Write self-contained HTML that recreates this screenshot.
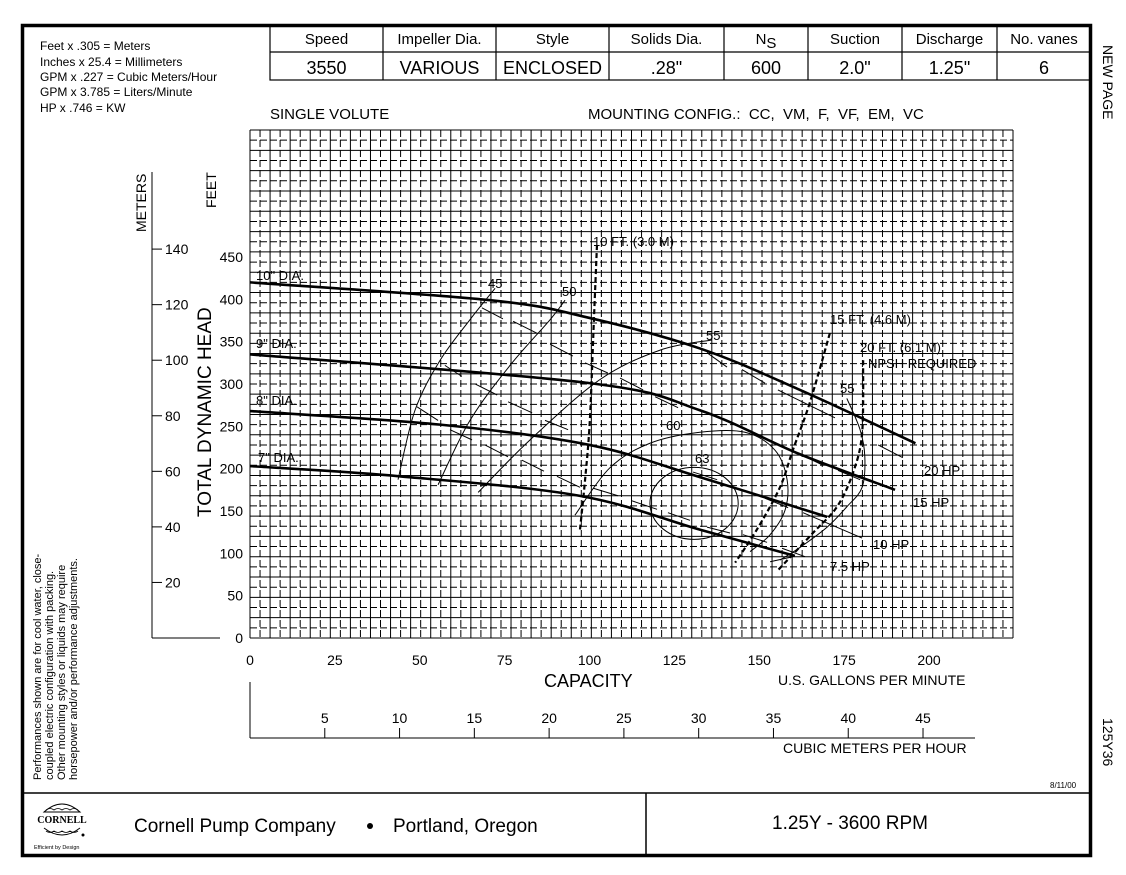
<!DOCTYPE html>
<html><head><meta charset="utf-8"><style>
html,body{margin:0;padding:0;background:#fff}
svg{display:block;font-family:"Liberation Sans",Arial,sans-serif}
</style></head><body>
<svg id="c" width="1126" height="875" viewBox="0 0 1126 875" xmlns="http://www.w3.org/2000/svg">
<rect x="0" y="0" width="1126" height="875" fill="#fff"/>
<rect x="22.5" y="25.5" width="1068" height="830" fill="none" stroke="#000" stroke-width="3.5"/>
<line x1="22" y1="793" x2="1091" y2="793" stroke="#000" stroke-width="1.5"/>
<line x1="646" y1="793" x2="646" y2="856" stroke="#000" stroke-width="1.5"/>
<g font-size="12">
<text x="40" y="50">Feet x .305 = Meters</text>
<text x="40" y="66">Inches x 25.4 = Millimeters</text>
<text x="40" y="81">GPM x .227 = Cubic Meters/Hour</text>
<text x="40" y="96">GPM x 3.785 = Liters/Minute</text>
<text x="40" y="112">HP x .746 = KW</text>
</g>
<g id="tbl"></g>
<text x="1103" y="45" font-size="14" transform="rotate(90 1103 45)">NEW PAGE</text>
<text x="1103" y="718" font-size="14" transform="rotate(90 1103 718)">125Y36</text>
<text x="1050" y="788" font-size="8">8/11/00</text>
<g font-size="11">
<text transform="translate(41,780) rotate(-90)">Performances shown are for cool water, close-</text>
<text transform="translate(53,780) rotate(-90)">coupled electric configuration with packing.</text>
<text transform="translate(65,780) rotate(-90)">Other mounting styles or liquids may require</text>
<text transform="translate(77,780) rotate(-90)">horsepower and/or performance adjustments.</text>
</g>
<text x="270" y="119" font-size="15">SINGLE VOLUTE</text>
<text x="588" y="119" font-size="15" style="white-space:pre">MOUNTING CONFIG.:  CC,  VM,  F,  VF,  EM,  VC</text>
<g>
<path d="M44 812 Q62 796 80 812 Z" fill="none" stroke="#000" stroke-width="1"/>
<path d="M46 810 q4 -3 8 0 q4 -3 8 0 q4 -3 8 0 q4 -3 8 0" fill="none" stroke="#000" stroke-width="0.8"/>
<text x="62" y="823" font-size="10" font-weight="bold" font-family="Liberation Serif,serif" text-anchor="middle">CORNELL</text>
<path d="M44 828 Q62 842 80 828" fill="none" stroke="#000" stroke-width="1"/>
<path d="M46 831 q4 3 8 0 q4 3 8 0 q4 3 8 0 q4 3 8 0" fill="none" stroke="#000" stroke-width="0.8"/>
<circle cx="83" cy="835" r="1.5" fill="#000"/>
<text x="34" y="849" font-size="5.5">Efficient by Design</text>
</g>
<text x="134" y="832" font-size="19">Cornell Pump Company</text>
<circle cx="370" cy="826" r="3" fill="#000"/>
<text x="393" y="832" font-size="19">Portland, Oregon</text>
<text x="850" y="829" font-size="19" text-anchor="middle">1.25Y - 3600 RPM</text>
<g id="grid"></g>
<g id="axes"></g>
<g id="marks"></g>
</svg>
<script>
// ---- data ----
const tableHeaders = ["Speed","Impeller Dia.","Style","Solids Dia.","NS","Suction","Discharge","No. vanes"];
const tableValues = ["3550","VARIOUS","ENCLOSED",".28\"","600","2.0\"","1.25\"","6"];
const gpmTicks = [0,25,50,75,100,125,150,175,200];
const feetTicks = [0,50,100,150,200,250,300,350,400,450];
const meterTicks = [20,40,60,80,100,120,140];
const cmhTicks = [5,10,15,20,25,30,35,40,45];
const dia10 = [[0,420],[70.7,399],[100,378],[132.5,342],[162,293],[196,230]];
const dia9 = [[0,335],[100,301],[132.5,269],[162,217],[190,175]];
const dia8 = [[0,268],[56,252],[100,228],[132.5,190],[170,143]];
const dia7 = [[0,203],[44,191],[97,168],[132.5,128],[160.5,97]];
const eff45 = [[43.6,187],[48.6,269],[56,328],[64.8,376],[72.2,413]];
const eff50 = [[55.4,181],[64.8,257],[76.6,322],[88.4,376],[92.8,399]];
const eff55a = [[67.2,172],[82.5,234],[103,305],[120.8,340],[136,352]];
const eff60 = [[95.7,145],[106,201],[117.8,230],[132.5,243],[145.8,243],[154.6,222],[158.2,187],[157.6,151],[153.2,122],[147.3,102]];
const eff55b = [[175.8,283],[179.7,246],[181.1,214],[180.3,178],[175.8,155],[170,131],[162,107],[156.1,92]];
const eff63 = {cx:130.8, cy:159, rx:13, ry:42.5};
const npsh10 = [[102.2,464],[101.3,376],[100.1,257],[98.7,187],[97.2,128]];
const npsh15 = [[170.8,360],[164.9,278],[159.9,222],[156.1,178],[149.3,128],[142.9,89]];
const npsh20 = [[180.6,328],[180.3,242],[177.6,195],[172.9,155],[165.8,124],[155.5,80]];
const hpSegments = [
[68.3,390,74.5,377],[77.5,374,84.5,360],[88.4,347,95.1,333],[98.7,325,105.4,313],[109,307,115.8,293],
[57.4,322,62.4,309],[66.3,300,72.8,287],[76,279,83.1,266],[86.9,257,93.7,246],
[49.2,273,55.4,257],[58.9,246,65.4,234],[69.2,228,76,214],[80.1,210,86.6,197],[90.4,191,97.2,178],
[101,177,108.4,168],[112.5,162,119.9,152],[134.6,337,140.5,320],[144.9,317,151.7,301],[155.5,293,172.3,260],
[185,228,192.3,213],[119.3,285,126.1,272],[152.3,234,158.2,224],[162.6,216,168.8,204],[173.2,198,179.7,187],
[130.5,196,137.6,187],[151.7,165,158.5,154],[162.9,148,180.3,118],[123.1,148,129.6,139],[134.6,131,141.4,124],
[145.2,122,152.3,113],[156.7,106,163.5,96],[153.2,90,159.9,96]];
// ---- axis functions ----
const X0=250, PXG=3.395, Y0=638, PXF=0.8467;
const sx = g => X0 + g*PXG;
const sy = f => Y0 - f*PXF;
const NS="http://www.w3.org/2000/svg";
function mk(tag, attrs, parent){const e=document.createElementNS(NS,tag);for(const k in attrs)e.setAttribute(k,attrs[k]);parent.appendChild(e);return e;}
// table
const tbl=document.getElementById('tbl');
const colX=[270,383,496,609,724,808,902,997,1091];
mk('rect',{x:270,y:26,width:821,height:54,fill:'none',stroke:'#000','stroke-width':1.2},tbl);
mk('line',{x1:270,y1:52,x2:1091,y2:52,stroke:'#000','stroke-width':1.2},tbl);
for(let i=1;i<colX.length-1;i++) mk('line',{x1:colX[i],y1:26,x2:colX[i],y2:80,stroke:'#000','stroke-width':1.2},tbl);
tableHeaders.forEach((h,i)=>{
  const cx=(colX[i]+colX[i+1])/2;
  const t=mk('text',{x:cx,y:44,'font-size':15,'text-anchor':'middle'},tbl);
  
  
  if(h==="NS"){t.textContent="N";const s=mk('tspan',{dy:4,'font-size':15},t);s.textContent="S";}
  else t.textContent=h;
  const v=mk('text',{x:cx,y:74,'font-size':18,'text-anchor':'middle'},tbl);
  
  
  v.textContent=tableValues[i];
});
// grid
const grid=document.getElementById('grid');
const GL=250,GR=1013,GT=130,GB=638;
const nc=76, nr=50;
for(let i=0;i<=nc;i++){const x=GL+(GR-GL)*i/nc;
  mk('line',{x1:x,y1:GT,x2:x,y2:GB,stroke:'#000','stroke-width':1,'stroke-dasharray':(i%2? '7 3':'none')},grid);}
for(let j=0;j<=nr;j++){const y=GT+(GB-GT)*j/nr;
  mk('line',{x1:GL,y1:y,x2:GR,y2:y,stroke:'#000','stroke-width':1,'stroke-dasharray':(j%2? '7 3':'none')},grid);}
// axes
const ax=document.getElementById('axes');
feetTicks.forEach(f=>{const t=mk('text',{x:243,y:sy(f)+5,'font-size':14,'text-anchor':'end'},ax);t.textContent=f;
  
  });
gpmTicks.forEach(g=>{const t=mk('text',{x:sx(g),y:665,'font-size':14,'text-anchor':'middle'},ax);t.textContent=g;
  
  });
mk('line',{x1:152,y1:172,x2:152,y2:638,stroke:'#000','stroke-width':1},ax);
mk('line',{x1:152,y1:638,x2:220,y2:638,stroke:'#000','stroke-width':1},ax);
meterTicks.forEach(m=>{const y=sy(m/0.3048);mk('line',{x1:152,y1:y,x2:162,y2:y,stroke:'#000'},ax);
  const t=mk('text',{x:165,y:y+5,'font-size':14},ax);t.textContent=m;
  
  });
mk('line',{x1:250,y1:682,x2:250,y2:738,stroke:'#000'},ax);
mk('line',{x1:250,y1:738,x2:975,y2:738,stroke:'#000'},ax);
cmhTicks.forEach(c=>{const x=sx(c/0.227);mk('line',{x1:x,y1:728,x2:x,y2:738,stroke:'#000'},ax);
  const t=mk('text',{x:x,y:723,'font-size':14,'text-anchor':'middle'},ax);t.textContent=c;
  
  });
function label(txt,x,y,size,name,rot){const t=mk('text',{x:x,y:y,'font-size':size},ax);t.textContent=txt;
  if(rot)t.setAttribute('transform','rotate(-90 '+x+' '+y+')');
  
  return t;}
label('METERS',146,232,14,'meters-axis-title',true);
label('FEET',216,208,14,'feet-axis-title',true);
label('TOTAL DYNAMIC HEAD',211,517,19,'y-axis-title',true);
label('CAPACITY',544,687,18,'x-axis-title');
label('U.S. GALLONS PER MINUTE',778,685,14,'x-axis-units');
label('CUBIC METERS PER HOUR',783,753,14,'cmh-axis-title');
// curves
const mks=document.getElementById('marks');
function smooth(pts){let d='M'+sx(pts[0][0])+' '+sy(pts[0][1]);
  for(let i=0;i<pts.length-1;i++){const p0=pts[i-1]||pts[i],p1=pts[i],p2=pts[i+1],p3=pts[i+2]||p2;
    const c1x=sx(p1[0])+(sx(p2[0])-sx(p0[0]))/6,c1y=sy(p1[1])+(sy(p2[1])-sy(p0[1]))/6;
    const c2x=sx(p2[0])-(sx(p3[0])-sx(p1[0]))/6,c2y=sy(p2[1])-(sy(p3[1])-sy(p1[1]))/6;
    d+=' C'+c1x+' '+c1y+' '+c2x+' '+c2y+' '+sx(p2[0])+' '+sy(p2[1]);}
  return d;}
function curve(pts,w,dash,name){const p=mk('path',{d:smooth(pts),fill:'none',stroke:'#000','stroke-width':w},mks);
  if(dash)p.setAttribute('stroke-dasharray',dash);
  
  }
curve(dia10,2.6,null,'head-curve-10in');
curve(dia9,2.6,null,'head-curve-9in');
curve(dia8,2.6,null,'head-curve-8in');
curve(dia7,2.6,null,'head-curve-7in');
curve(eff45,1,null,'efficiency-45');
curve(eff50,1,null,'efficiency-50');
curve(eff55a,1,null,'efficiency-55-left');
curve(eff60,1,null,'efficiency-60');
curve(eff55b,1,null,'efficiency-55-right');
const el=mk('ellipse',{cx:sx(eff63.cx),cy:sy(eff63.cy),rx:eff63.rx*PXG,ry:eff63.ry*PXF,fill:'none',stroke:'#000','stroke-width':1},mks);


curve(npsh10,2.2,'5 3','npsh-10ft');
curve(npsh15,2.2,'5 3','npsh-15ft');
curve(npsh20,2.2,'5 3','npsh-20ft');
hpSegments.forEach(s=>{const l=mk('line',{x1:sx(s[0]),y1:sy(s[1]),x2:sx(s[2]),y2:sy(s[3]),stroke:'#000','stroke-width':1},mks);
  
  });
const labels=[["10\" DIA.",256,280],["9\" DIA.",256,348],["8\" DIA.",256,405],["7\" DIA.",258,462],
["45",488,288],["50",562,296],["55",706,340],["60",666,430],["63",695,463],["55",840,393],
["10 FT. (3.0 M)",593,246],["15 FT. (4.6 M)",830,324],["20 FT. (6.1 M)",860,352],["NPSH REQUIRED",868,368],
["20 HP",924,475],["15 HP",913,507],["10 HP",873,549],["7.5 HP",830,571]];
labels.forEach(l=>{const t=mk('text',{x:l[1],y:l[2],'font-size':13},mks);t.textContent=l[0];
  
  });
</script>
</body></html>
